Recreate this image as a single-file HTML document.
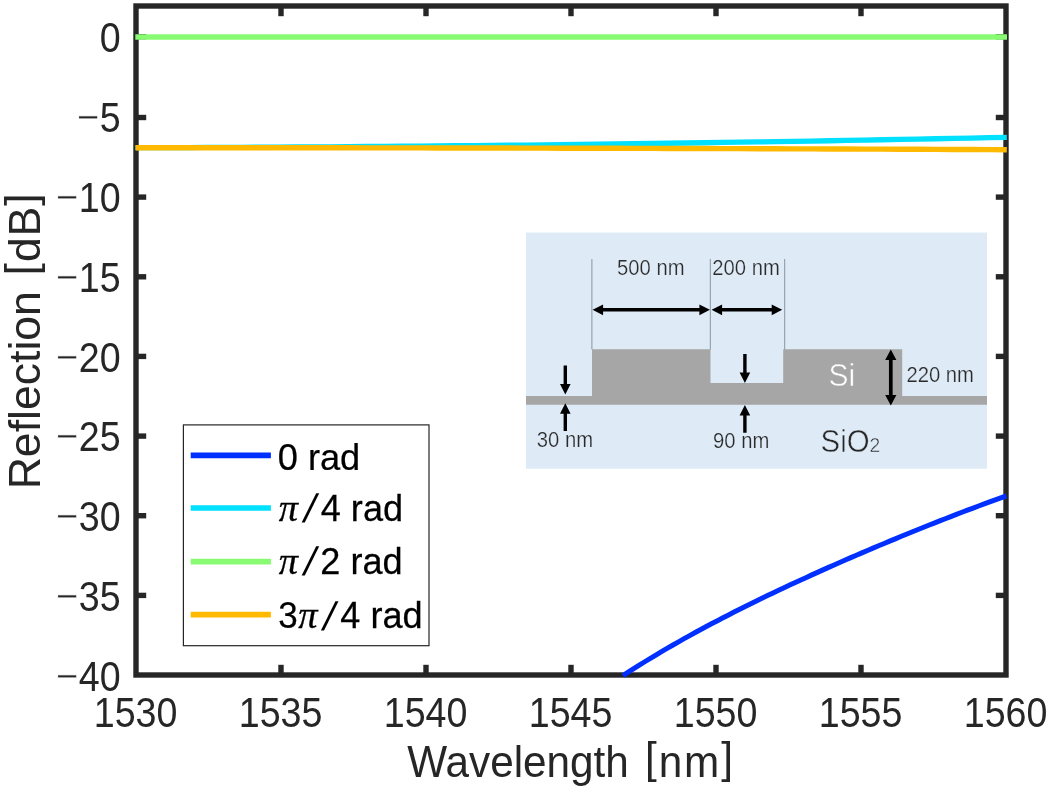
<!DOCTYPE html>
<html lang="en"><head><meta charset="utf-8"><title>Reflection vs Wavelength</title>
<style>
html,body{margin:0;padding:0;background:#fff;}
svg{display:block;}
text{font-family:"Liberation Sans","Noto Sans CJK JP",sans-serif;}
.tk{fill:#262626;}
.al{fill:#262626;}
.lg{fill:#000;stroke:#000;stroke-width:0.25px;}
.sl{fill:#000;}
.pi{font-family:"Liberation Serif","DejaVu Serif",serif;font-style:italic;fill:#000;stroke:#000;stroke-width:0.3px;}
.in{fill:#2a2a2a;stroke:#deebf7;stroke-width:0.25px;}
</style></head><body>
<svg width="1050" height="786" viewBox="0 0 1050 786">
<rect width="1050" height="786" fill="#fff"/>

<rect x="136" y="6" width="870" height="669" fill="none" stroke="#262626" stroke-width="5.4"/>
<line x1="281.0" y1="675" x2="281.0" y2="664.8" stroke="#262626" stroke-width="5.4"/>
<line x1="281.0" y1="6" x2="281.0" y2="16.2" stroke="#262626" stroke-width="5.4"/>
<line x1="426.0" y1="675" x2="426.0" y2="664.8" stroke="#262626" stroke-width="5.4"/>
<line x1="426.0" y1="6" x2="426.0" y2="16.2" stroke="#262626" stroke-width="5.4"/>
<line x1="571.0" y1="675" x2="571.0" y2="664.8" stroke="#262626" stroke-width="5.4"/>
<line x1="571.0" y1="6" x2="571.0" y2="16.2" stroke="#262626" stroke-width="5.4"/>
<line x1="716.0" y1="675" x2="716.0" y2="664.8" stroke="#262626" stroke-width="5.4"/>
<line x1="716.0" y1="6" x2="716.0" y2="16.2" stroke="#262626" stroke-width="5.4"/>
<line x1="861.0" y1="675" x2="861.0" y2="664.8" stroke="#262626" stroke-width="5.4"/>
<line x1="861.0" y1="6" x2="861.0" y2="16.2" stroke="#262626" stroke-width="5.4"/>
<line x1="136" y1="36.7" x2="146.2" y2="36.7" stroke="#262626" stroke-width="5.4"/>
<line x1="1006" y1="36.7" x2="995.8" y2="36.7" stroke="#262626" stroke-width="5.4"/>
<line x1="136" y1="117.5" x2="146.2" y2="117.5" stroke="#262626" stroke-width="5.4"/>
<line x1="1006" y1="117.5" x2="995.8" y2="117.5" stroke="#262626" stroke-width="5.4"/>
<line x1="136" y1="197.1" x2="146.2" y2="197.1" stroke="#262626" stroke-width="5.4"/>
<line x1="1006" y1="197.1" x2="995.8" y2="197.1" stroke="#262626" stroke-width="5.4"/>
<line x1="136" y1="276.8" x2="146.2" y2="276.8" stroke="#262626" stroke-width="5.4"/>
<line x1="1006" y1="276.8" x2="995.8" y2="276.8" stroke="#262626" stroke-width="5.4"/>
<line x1="136" y1="356.4" x2="146.2" y2="356.4" stroke="#262626" stroke-width="5.4"/>
<line x1="1006" y1="356.4" x2="995.8" y2="356.4" stroke="#262626" stroke-width="5.4"/>
<line x1="136" y1="436.1" x2="146.2" y2="436.1" stroke="#262626" stroke-width="5.4"/>
<line x1="1006" y1="436.1" x2="995.8" y2="436.1" stroke="#262626" stroke-width="5.4"/>
<line x1="136" y1="515.7" x2="146.2" y2="515.7" stroke="#262626" stroke-width="5.4"/>
<line x1="1006" y1="515.7" x2="995.8" y2="515.7" stroke="#262626" stroke-width="5.4"/>
<line x1="136" y1="595.4" x2="146.2" y2="595.4" stroke="#262626" stroke-width="5.4"/>
<line x1="1006" y1="595.4" x2="995.8" y2="595.4" stroke="#262626" stroke-width="5.4"/>
<text class="tk" transform="translate(135.60,726.90) scale(0.8952,1)" font-size="42.00" text-anchor="middle">1530</text>
<text class="tk" transform="translate(280.60,726.90) scale(0.8952,1)" font-size="42.00" text-anchor="middle">1535</text>
<text class="tk" transform="translate(425.60,726.90) scale(0.8952,1)" font-size="42.00" text-anchor="middle">1540</text>
<text class="tk" transform="translate(570.60,726.90) scale(0.8952,1)" font-size="42.00" text-anchor="middle">1545</text>
<text class="tk" transform="translate(715.60,726.90) scale(0.8952,1)" font-size="42.00" text-anchor="middle">1550</text>
<text class="tk" transform="translate(860.60,726.90) scale(0.8952,1)" font-size="42.00" text-anchor="middle">1555</text>
<text class="tk" transform="translate(1005.60,726.90) scale(0.8952,1)" font-size="42.00" text-anchor="middle">1560</text>
<text class="tk" transform="translate(120.60,52.40) scale(0.8952,1)" font-size="42.00" text-anchor="end">0</text>
<text class="tk" transform="translate(120.60,132.20) scale(0.8952,1)" font-size="42.00" text-anchor="end"><tspan font-size="44.1" stroke="#fff" stroke-width="1">−</tspan>5</text>
<text class="tk" transform="translate(120.60,212.00) scale(0.8952,1)" font-size="42.00" text-anchor="end"><tspan font-size="44.1" stroke="#fff" stroke-width="1">−</tspan>10</text>
<text class="tk" transform="translate(120.60,291.80) scale(0.8952,1)" font-size="42.00" text-anchor="end"><tspan font-size="44.1" stroke="#fff" stroke-width="1">−</tspan>15</text>
<text class="tk" transform="translate(120.60,371.60) scale(0.8952,1)" font-size="42.00" text-anchor="end"><tspan font-size="44.1" stroke="#fff" stroke-width="1">−</tspan>20</text>
<text class="tk" transform="translate(120.60,451.40) scale(0.8952,1)" font-size="42.00" text-anchor="end"><tspan font-size="44.1" stroke="#fff" stroke-width="1">−</tspan>25</text>
<text class="tk" transform="translate(120.60,531.20) scale(0.8952,1)" font-size="42.00" text-anchor="end"><tspan font-size="44.1" stroke="#fff" stroke-width="1">−</tspan>30</text>
<text class="tk" transform="translate(120.60,611.00) scale(0.8952,1)" font-size="42.00" text-anchor="end"><tspan font-size="44.1" stroke="#fff" stroke-width="1">−</tspan>35</text>
<text class="tk" transform="translate(120.60,690.80) scale(0.8952,1)" font-size="42.00" text-anchor="end"><tspan font-size="44.1" stroke="#fff" stroke-width="1">−</tspan>40</text>
<text class="al" transform="translate(407.28,776.50) scale(0.9540,1)" font-size="44.30"><tspan x="0">Wavelength </tspan><tspan x="249.24" dy="-4" letter-spacing="2.00">[</tspan><tspan dy="4" letter-spacing="2.00">nm</tspan><tspan dy="-4">]</tspan></text>
<text class="al" transform="translate(40.40,489.37) rotate(-90) scale(1.0068,1)" font-size="44.30"><tspan x="0">Reflection </tspan><tspan x="212.51" dy="-4" letter-spacing="0.91">[</tspan><tspan dy="4" letter-spacing="0.91">dB</tspan><tspan dy="-4">]</tspan></text>
<path d="M623.0,675.55 L628.6,671.96 L634.1,668.42 L639.7,664.93 L645.2,661.50 L650.8,658.11 L656.3,654.77 L661.9,651.47 L667.5,648.21 L673.0,645.00 L678.6,641.83 L684.1,638.70 L689.7,635.61 L695.2,632.55 L700.8,629.53 L706.3,626.54 L711.9,623.58 L717.5,620.66 L723.0,617.77 L728.6,614.91 L734.1,612.07 L739.7,609.27 L745.2,606.49 L750.8,603.73 L756.4,601.00 L761.9,598.30 L767.5,595.61 L773.0,592.95 L778.6,590.31 L784.1,587.69 L789.7,585.09 L795.3,582.51 L800.8,579.95 L806.4,577.41 L811.9,574.88 L817.5,572.38 L823.0,569.88 L828.6,567.41 L834.1,564.95 L839.7,562.50 L845.3,560.07 L850.8,557.66 L856.4,555.25 L861.9,552.87 L867.5,550.49 L873.0,548.14 L878.6,545.79 L884.2,543.46 L889.7,541.14 L895.3,538.83 L900.8,536.54 L906.4,534.27 L911.9,532.00 L917.5,529.75 L923.1,527.52 L928.6,525.29 L934.2,523.09 L939.7,520.89 L945.3,518.72 L950.8,516.56 L956.4,514.41 L961.9,512.28 L967.5,510.17 L973.1,508.07 L978.6,505.99 L984.2,503.93 L989.7,501.89 L995.3,499.87 L1000.8,497.87 L1006.4,495.89" fill="none" stroke="#0030ff" stroke-width="5.0" stroke-linejoin="round"/>
<path d="M135.5,147.70 L153.3,147.65 L171.1,147.59 L188.8,147.53 L206.6,147.46 L224.4,147.38 L242.2,147.30 L260.0,147.21 L277.8,147.11 L295.5,147.01 L313.3,146.89 L331.1,146.78 L348.9,146.65 L366.7,146.52 L384.4,146.38 L402.2,146.24 L420.0,146.09 L437.8,145.93 L455.6,145.76 L473.4,145.59 L491.1,145.41 L508.9,145.23 L526.7,145.03 L544.5,144.83 L562.3,144.63 L580.0,144.42 L597.8,144.20 L615.6,143.97 L633.4,143.74 L651.2,143.50 L668.9,143.25 L686.7,143.00 L704.5,142.74 L722.3,142.47 L740.1,142.20 L757.9,141.92 L775.6,141.63 L793.4,141.34 L811.2,141.04 L829.0,140.73 L846.8,140.41 L864.5,140.09 L882.3,139.77 L900.1,139.43 L917.9,139.09 L935.7,138.74 L953.5,138.39 L971.2,138.03 L989.0,137.66 L1006.8,137.30" fill="none" stroke="#00e0ff" stroke-width="5.3" stroke-linejoin="round"/>
<path d="M135.3,37 L1007,37" fill="none" stroke="#89fb72" stroke-width="5.6"/>
<path d="M135.5,147.70 L153.3,147.70 L171.1,147.70 L188.8,147.71 L206.6,147.71 L224.4,147.72 L242.2,147.73 L260.0,147.74 L277.8,147.75 L295.5,147.77 L313.3,147.78 L331.1,147.80 L348.9,147.82 L366.7,147.84 L384.4,147.86 L402.2,147.89 L420.0,147.91 L437.8,147.94 L455.6,147.97 L473.4,148.00 L491.1,148.03 L508.9,148.07 L526.7,148.10 L544.5,148.14 L562.3,148.18 L580.0,148.22 L597.8,148.26 L615.6,148.31 L633.4,148.35 L651.2,148.40 L668.9,148.45 L686.7,148.50 L704.5,148.55 L722.3,148.61 L740.1,148.66 L757.9,148.72 L775.6,148.78 L793.4,148.84 L811.2,148.90 L829.0,148.97 L846.8,149.03 L864.5,149.10 L882.3,149.17 L900.1,149.24 L917.9,149.32 L935.7,149.39 L953.5,149.47 L971.2,149.54 L989.0,149.62 L1006.8,149.70" fill="none" stroke="#ffba00" stroke-width="5.4" stroke-linejoin="round"/>
<rect x="183.4" y="424.9" width="245.6" height="220.8" fill="#fff" stroke="#262626" stroke-width="1.2"/>
<line x1="190.7" y1="455.4" x2="270.9" y2="455.4" stroke="#0030ff" stroke-width="5.7"/>
<line x1="190.7" y1="508.0" x2="270.9" y2="508.0" stroke="#00e0ff" stroke-width="5.7"/>
<line x1="190.7" y1="561.6" x2="270.9" y2="561.6" stroke="#89fb72" stroke-width="5.7"/>
<line x1="190.7" y1="614.6" x2="270.9" y2="614.6" stroke="#ffba00" stroke-width="5.7"/>
<text class="lg" transform="translate(277.73,469.70) scale(0.9705,1)" font-size="37.30">0 rad</text>
<g aria-label="π/4 rad"><text class="pi" transform="translate(278.72,521.00) scale(1.0026,1)" font-size="38.30">π</text><text class="sl" transform="translate(301.70,522.30) skewX(-12.7)" font-size="39.6">/</text><text class="lg" transform="translate(320.77,521.00) scale(0.9678,1)" font-size="37.30">4 rad</text></g>
<g aria-label="π/2 rad"><text class="pi" transform="translate(278.72,574.00) scale(1.0026,1)" font-size="38.30">π</text><text class="sl" transform="translate(301.70,575.30) skewX(-12.7)" font-size="39.6">/</text><text class="lg" transform="translate(320.37,574.00) scale(0.9678,1)" font-size="37.30">2 rad</text></g>
<g aria-label="3π/4 rad"><text class="lg" transform="translate(278.33,628.20) scale(0.9383,1)" font-size="37.30">3</text><text class="pi" transform="translate(298.22,628.20) scale(1.0026,1)" font-size="38.30">π</text><text class="sl" transform="translate(321.00,629.50) skewX(-12.7)" font-size="39.6">/</text><text class="lg" transform="translate(340.37,628.20) scale(0.9678,1)" font-size="37.30">4 rad</text></g>
<g>
<rect x="526" y="232.5" width="461" height="236.2" fill="#deebf7"/>
<path d="M526,396 H592 V349.3 H710.5 V383 H783.2 V349.3 H902.2 V396 H987 V404.8 H526 Z" fill="#a6a6a6"/>
<line x1="591.9" y1="259" x2="591.9" y2="349.5" stroke="#7f8c99" stroke-width="0.9"/>
<line x1="710.3" y1="259" x2="710.3" y2="349.5" stroke="#7f8c99" stroke-width="0.9"/>
<line x1="784.7" y1="259" x2="784.7" y2="349.5" stroke="#7f8c99" stroke-width="0.9"/>
<path d="M592.6,309.8 L603.1,304.4 L603.1,308.1 L699.4,308.1 L699.4,304.4 L709.9,309.8 L699.4,315.2 L699.4,311.5 L603.1,311.5 L603.1,315.2 Z" fill="#000"/>
<path d="M711.6,309.8 L722.1,304.4 L722.1,308.1 L771.7,308.1 L771.7,304.4 L782.2,309.8 L771.7,315.2 L771.7,311.5 L722.1,311.5 L722.1,315.2 Z" fill="#000"/>
<path d="M890.8,349.5 L896.4,360.0 L892.65,360.0 L892.65,394.9 L896.4,394.9 L890.8,405.4 L885.2,394.9 L888.95,394.9 L888.95,360.0 L885.2,360.0 Z" fill="#000"/>
<path d="M565.3,394.5 L570.6,384.0 L567.0,384.0 L567.0,365.6 L563.6,365.6 L563.6,384.0 L560.0,384.0 Z" fill="#000"/>
<path d="M565.3,403.3 L570.6,413.8 L567.0,413.8 L567.0,431 L563.6,431 L563.6,413.8 L560.0,413.8 Z" fill="#000"/>
<path d="M744.9,383 L750.2,372.5 L746.6,372.5 L746.6,354.1 L743.2,354.1 L743.2,372.5 L739.6,372.5 Z" fill="#000"/>
<path d="M744.9,405 L750.2,415.5 L746.6,415.5 L746.6,432.7 L743.2,432.7 L743.2,415.5 L739.6,415.5 Z" fill="#000"/>
<text class="in" transform="translate(617.09,275.40) scale(0.9081,1)" font-size="22.30">500 nm</text>
<text class="in" transform="translate(712.29,275.40) scale(0.9081,1)" font-size="22.30">200 nm</text>
<text class="in" transform="translate(906.39,381.80) scale(0.9081,1)" font-size="22.30">220 nm</text>
<text class="in" transform="translate(536.79,447.00) scale(0.9081,1)" font-size="22.30">30 nm</text>
<text class="in" transform="translate(713.09,448.40) scale(0.9081,1)" font-size="22.30">90 nm</text>
<text class="in" transform="translate(828.50,386.00) scale(0.9524,1)" font-size="31.50" style="fill:#fff;stroke:#a6a6a6;stroke-width:0.5px">Si</text>
<text class="in" transform="translate(820.53,452.00) scale(0.9333,1)" font-size="31.50" style="fill:#262626;stroke:#deebf7;stroke-width:0.5px">SiO<tspan font-size="20.6">2</tspan></text>
</g>
</svg></body></html>
